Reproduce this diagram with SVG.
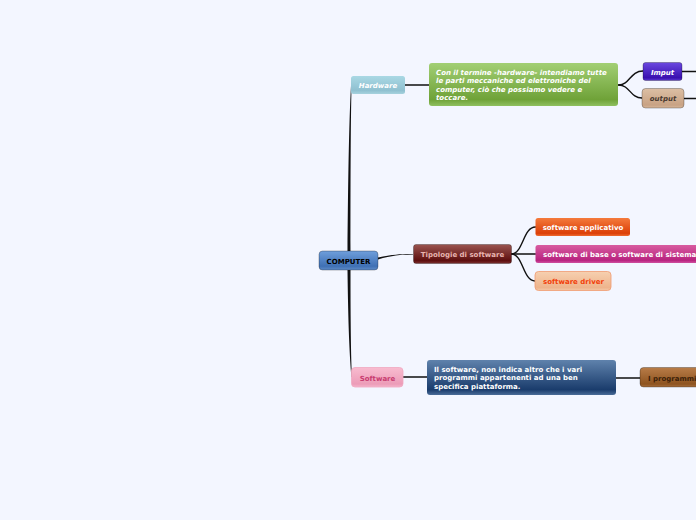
<svg xmlns="http://www.w3.org/2000/svg" width="696" height="520" viewBox="0 0 696 520">
<style>
text{font-family:"DejaVu Sans",sans-serif;font-size:7px;font-weight:bold}
.i{font-style:italic}
.c{fill:none;stroke:#111;stroke-width:1.4;stroke-linecap:round}
.b{stroke-width:.8;stroke-opacity:.35;stroke:#000}
</style>
<defs>
<linearGradient id="gC" x1="0" y1="0" x2="0" y2="1"><stop offset="0" stop-color="#6f9fdc"/><stop offset=".8" stop-color="#3f70b4"/><stop offset="1" stop-color="#5f8cc8"/></linearGradient>
<linearGradient id="gH" x1="0" y1="0" x2="0" y2="1"><stop offset="0" stop-color="#a9d8e4"/><stop offset=".8" stop-color="#8fc0d0"/><stop offset="1" stop-color="#a6d2de"/></linearGradient>
<linearGradient id="gG" x1="0" y1="0" x2="0" y2="1"><stop offset="0" stop-color="#a2cf74"/><stop offset=".85" stop-color="#6fa238"/><stop offset="1" stop-color="#8fc060"/></linearGradient>
<linearGradient id="gI" x1="0" y1="0" x2="0" y2="1"><stop offset="0" stop-color="#6a48e0"/><stop offset=".85" stop-color="#3a10b0"/><stop offset="1" stop-color="#5a38d0"/></linearGradient>
<linearGradient id="gO" x1="0" y1="0" x2="0" y2="1"><stop offset="0" stop-color="#dcbfa4"/><stop offset=".85" stop-color="#c8a284"/><stop offset="1" stop-color="#d8b89c"/></linearGradient>
<linearGradient id="gT" x1="0" y1="0" x2="0" y2="1"><stop offset="0" stop-color="#9a5450"/><stop offset=".85" stop-color="#5e0f0f"/><stop offset="1" stop-color="#7c3030"/></linearGradient>
<linearGradient id="gA" x1="0" y1="0" x2="0" y2="1"><stop offset="0" stop-color="#f47a3c"/><stop offset=".85" stop-color="#dc3f08"/><stop offset="1" stop-color="#ee6a30"/></linearGradient>
<linearGradient id="gB" x1="0" y1="0" x2="0" y2="1"><stop offset="0" stop-color="#d85ca0"/><stop offset=".85" stop-color="#b8237f"/><stop offset="1" stop-color="#d050a0"/></linearGradient>
<linearGradient id="gD" x1="0" y1="0" x2="0" y2="1"><stop offset="0" stop-color="#f6d0b0"/><stop offset=".85" stop-color="#eeb48c"/><stop offset="1" stop-color="#f4c8a8"/></linearGradient>
<linearGradient id="gS" x1="0" y1="0" x2="0" y2="1"><stop offset="0" stop-color="#f8bcd0"/><stop offset=".85" stop-color="#ec9cb8"/><stop offset="1" stop-color="#f4b4cc"/></linearGradient>
<linearGradient id="gU" x1="0" y1="0" x2="0" y2="1"><stop offset="0" stop-color="#5f82ac"/><stop offset=".85" stop-color="#1a3c6c"/><stop offset="1" stop-color="#4a6c98"/></linearGradient>
<linearGradient id="gP" x1="0" y1="0" x2="0" y2="1"><stop offset="0" stop-color="#b87c48"/><stop offset=".85" stop-color="#8e5420"/><stop offset="1" stop-color="#a87040"/></linearGradient>
</defs>
<rect width="696" height="520" fill="#f3f6ff"/>
<g id="connectors">
<path d="M347.500 252C348 190 349 120 351 86L351.600 86C350.600 120 350.500 190 350.500 252Z" fill="#111"/>
<path d="M347.500 270C348 310 349 350 351.500 377L352 377C350.800 350 350.500 310 350.500 270Z" fill="#111"/>
<path d="M378 257.500C392 254.500 400 254 413 254L413 254.600C400 254.800 392 255.500 378 259.500Z" fill="#111"/>
<path class="c" d="M405 85H429" stroke="#333"/>
<path class="c" d="M618.500 85C630 85 630 71 643 71"/>
<path class="c" d="M618.500 85C630 85 630 98 642 98"/>
<path class="c" d="M682 71.500H696"/>
<path class="c" d="M684 98.500H696"/>
<path class="c" d="M511.500 254C523 254 523 227 535.500 227"/>
<path class="c" d="M511.500 254H535.500"/>
<path class="c" d="M511.500 254C523 254 523 281 535 281"/>
<path class="c" d="M403 377H427" stroke="#333"/>
<path class="c" d="M616 378H640"/>
</g>
<g id="computer"><rect class="b" x="319" y="251" width="59" height="19" rx="3.500" fill="url(#gC)"/><text x="348.500" y="264" text-anchor="middle" fill="#000">COMPUTER</text></g>
<g id="hardware"><rect x="351" y="76" width="54" height="18" rx="2.500" fill="url(#gH)"/><text class="i" x="378" y="88" text-anchor="middle" fill="#fff">Hardware</text></g>
<g id="hardware-def"><rect x="429" y="63" width="189" height="43" rx="3" fill="url(#gG)"/>
<text class="i" fill="#fff"><tspan x="436" y="75">Con il termine -hardware- intendiamo tutte</tspan><tspan x="436" y="83">le parti meccaniche ed elettroniche del</tspan><tspan x="436" y="92">computer, ciò che possiamo vedere e</tspan><tspan x="436" y="100">toccare.</tspan></text></g>
<g id="imput"><rect class="b" x="643" y="62.500" width="39" height="18" rx="2.500" fill="url(#gI)"/><text class="i" x="662.500" y="74.500" text-anchor="middle" fill="#fff">Imput</text></g>
<g id="output"><rect class="b" x="642" y="88.500" width="42" height="19.500" rx="3.500" fill="url(#gO)"/><text class="i" x="663" y="101" text-anchor="middle" fill="#4a3a30">output</text></g>
<g id="tipologie"><rect class="b" x="413.500" y="244.500" width="98" height="19" rx="2.500" fill="url(#gT)"/><text x="462.500" y="257" text-anchor="middle" fill="#e8b4b0">Tipologie di software</text></g>
<g id="applicativo"><rect x="535.500" y="218" width="94.500" height="18" rx="2.500" fill="url(#gA)"/><text x="583" y="230" text-anchor="middle" fill="#fff">software applicativo</text></g>
<g id="base"><rect x="535.500" y="245" width="170" height="18" rx="2.500" fill="url(#gB)"/><text x="543" y="257" fill="#fff">software di base o software di sistema</text></g>
<g id="driver"><rect x="535" y="271.500" width="76" height="19" rx="3.500" fill="url(#gD)" stroke="#f09a70" stroke-width=".8"/><text x="573.500" y="284" text-anchor="middle" fill="#f2400a">software driver</text></g>
<g id="software"><rect x="351.500" y="367.500" width="51.500" height="19.500" rx="3.500" fill="url(#gS)" stroke="#f0a8c0" stroke-width=".8"/><text x="377.500" y="380.500" text-anchor="middle" fill="#c83c70">Software</text></g>
<g id="software-def"><rect x="427" y="360" width="189" height="35" rx="3" fill="url(#gU)"/>
<text fill="#fff"><tspan x="434" y="372">Il software, non indica altro che i vari</tspan><tspan x="434" y="380">programmi appartenenti ad una ben</tspan><tspan x="434" y="389">specifica piattaforma.</tspan></text></g>
<g id="programmi"><rect class="b" x="640" y="367.500" width="70" height="19.500" rx="3.500" fill="url(#gP)"/><text x="648" y="380.500" fill="#3c2008">I programmi</text></g>
</svg>
